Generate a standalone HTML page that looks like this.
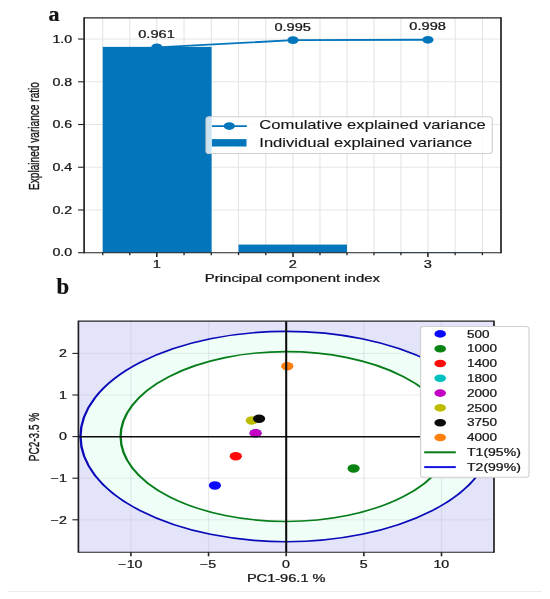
<!DOCTYPE html>
<html lang="en"><head><meta charset="utf-8"><title>PCA explained variance and score plot</title>
<style>html,body{margin:0;padding:0;background:#fff}svg{display:block}text{font-family:"Liberation Sans", Arial, Helvetica, sans-serif;fill:#161616;stroke:#161616;stroke-width:0.24px;stroke-linejoin:round}.lab{font-family:"Liberation Serif","Times New Roman",serif;font-weight:bold;fill:#111}</style></head><body>
<svg width="550" height="599" viewBox="0 0 550 599">
<defs><clipPath id="c2"><rect x="78.4" y="320.8" width="415.6" height="231.4"/></clipPath></defs>
<rect width="550" height="599" fill="#fff"/>
<g>
<g stroke="#e3e3e3" fill="none">
<line x1="102.75" x2="102.75" y1="17.85" y2="252.70" stroke-width="1.05"/>
<line x1="129.78" x2="129.78" y1="17.85" y2="252.70" stroke-width="1.05"/>
<line x1="156.80" x2="156.80" y1="17.85" y2="252.70" stroke-width="1.05"/>
<line x1="184.04" x2="184.04" y1="17.85" y2="252.70" stroke-width="1.05"/>
<line x1="211.28" x2="211.28" y1="17.85" y2="252.70" stroke-width="1.05"/>
<line x1="238.52" x2="238.52" y1="17.85" y2="252.70" stroke-width="1.05"/>
<line x1="265.76" x2="265.76" y1="17.85" y2="252.70" stroke-width="1.05"/>
<line x1="293.00" x2="293.00" y1="17.85" y2="252.70" stroke-width="1.05"/>
<line x1="319.98" x2="319.98" y1="17.85" y2="252.70" stroke-width="1.05"/>
<line x1="346.96" x2="346.96" y1="17.85" y2="252.70" stroke-width="1.05"/>
<line x1="373.94" x2="373.94" y1="17.85" y2="252.70" stroke-width="1.05"/>
<line x1="400.92" x2="400.92" y1="17.85" y2="252.70" stroke-width="1.05"/>
<line x1="427.90" x2="427.90" y1="17.85" y2="252.70" stroke-width="1.05"/>
<line x1="455.15" x2="455.15" y1="17.85" y2="252.70" stroke-width="1.05"/>
<line x1="482.40" x2="482.40" y1="17.85" y2="252.70" stroke-width="1.05"/>
<line x1="84.10" x2="501.00" y1="209.97" y2="209.97" stroke-width="0.9"/>
<line x1="84.10" x2="501.00" y1="167.24" y2="167.24" stroke-width="0.9"/>
<line x1="84.10" x2="501.00" y1="124.51" y2="124.51" stroke-width="0.9"/>
<line x1="84.10" x2="501.00" y1="81.78" y2="81.78" stroke-width="0.9"/>
<line x1="84.10" x2="501.00" y1="39.05" y2="39.05" stroke-width="0.9"/>
</g>
<rect x="102.75" y="46.85" width="108.83" height="205.85" fill="#0376bb"/>
<rect x="238.52" y="244.58" width="108.44" height="8.12" fill="#0376bb"/>
<rect x="373.94" y="252.06" width="108.46" height="0.64" fill="#0376bb"/>
<polyline points="156.80,47.38 293.00,40.12 427.90,39.80" fill="none" stroke="#0376bb" stroke-width="1.9"/>
<ellipse cx="156.80" cy="47.38" rx="5.6" ry="3.9" fill="#0376bb"/>
<ellipse cx="293.00" cy="40.12" rx="5.6" ry="3.9" fill="#0376bb"/>
<ellipse cx="427.90" cy="39.80" rx="5.6" ry="3.9" fill="#0376bb"/>
<text transform="translate(156.50,37.60) scale(1.46,1)" font-size="10" text-anchor="middle">0.961</text>
<text transform="translate(292.70,30.72) scale(1.46,1)" font-size="10" text-anchor="middle">0.995</text>
<text transform="translate(427.60,30.40) scale(1.46,1)" font-size="10" text-anchor="middle">0.998</text>
<g stroke="#222" fill="none">
<line x1="84.10" x2="84.10" y1="17.35" y2="253.20" stroke-width="1.7"/>
<line x1="501.00" x2="501.00" y1="17.35" y2="253.20" stroke-width="1.7"/>
<line x1="84.10" x2="501.00" y1="17.85" y2="17.85" stroke-width="1.15"/>
<line x1="84.10" x2="501.00" y1="252.70" y2="252.70" stroke-width="1.15"/>
<line x1="78.10" x2="84.10" y1="252.70" y2="252.70" stroke-width="1.1"/>
<line x1="78.10" x2="84.10" y1="209.97" y2="209.97" stroke-width="1.1"/>
<line x1="78.10" x2="84.10" y1="167.24" y2="167.24" stroke-width="1.1"/>
<line x1="78.10" x2="84.10" y1="124.51" y2="124.51" stroke-width="1.1"/>
<line x1="78.10" x2="84.10" y1="81.78" y2="81.78" stroke-width="1.1"/>
<line x1="78.10" x2="84.10" y1="39.05" y2="39.05" stroke-width="1.1"/>
<line x1="102.75" x2="102.75" y1="252.70" y2="255.20" stroke-width="1.3"/>
<line x1="129.78" x2="129.78" y1="252.70" y2="255.20" stroke-width="1.3"/>
<line x1="156.80" x2="156.80" y1="252.70" y2="257.00" stroke-width="1.6"/>
<line x1="184.04" x2="184.04" y1="252.70" y2="255.20" stroke-width="1.3"/>
<line x1="211.28" x2="211.28" y1="252.70" y2="255.20" stroke-width="1.3"/>
<line x1="238.52" x2="238.52" y1="252.70" y2="255.20" stroke-width="1.3"/>
<line x1="265.76" x2="265.76" y1="252.70" y2="255.20" stroke-width="1.3"/>
<line x1="293.00" x2="293.00" y1="252.70" y2="257.00" stroke-width="1.6"/>
<line x1="319.98" x2="319.98" y1="252.70" y2="255.20" stroke-width="1.3"/>
<line x1="346.96" x2="346.96" y1="252.70" y2="255.20" stroke-width="1.3"/>
<line x1="373.94" x2="373.94" y1="252.70" y2="255.20" stroke-width="1.3"/>
<line x1="400.92" x2="400.92" y1="252.70" y2="255.20" stroke-width="1.3"/>
<line x1="427.90" x2="427.90" y1="252.70" y2="257.00" stroke-width="1.6"/>
<line x1="455.15" x2="455.15" y1="252.70" y2="255.20" stroke-width="1.3"/>
<line x1="482.40" x2="482.40" y1="252.70" y2="255.20" stroke-width="1.3"/>
</g>
<text transform="translate(72.20,256.45) scale(1.42,1)" font-size="10" text-anchor="end">0.0</text>
<text transform="translate(72.20,213.72) scale(1.42,1)" font-size="10" text-anchor="end">0.2</text>
<text transform="translate(72.20,170.99) scale(1.42,1)" font-size="10" text-anchor="end">0.4</text>
<text transform="translate(72.20,128.26) scale(1.42,1)" font-size="10" text-anchor="end">0.6</text>
<text transform="translate(72.20,85.53) scale(1.42,1)" font-size="10" text-anchor="end">0.8</text>
<text transform="translate(72.20,42.80) scale(1.42,1)" font-size="10" text-anchor="end">1.0</text>
<text transform="translate(156.70,267.80) scale(1.46,1)" font-size="10" text-anchor="middle">1</text>
<text transform="translate(292.90,267.80) scale(1.46,1)" font-size="10" text-anchor="middle">2</text>
<text transform="translate(427.80,267.80) scale(1.46,1)" font-size="10" text-anchor="middle">3</text>
<text transform="translate(292.40,282.00) scale(1.495,1)" font-size="10" text-anchor="middle">Principal component index</text>
<text transform="translate(38.80,136.00) rotate(-90) scale(1,1.46)" font-size="10.13" text-anchor="middle">Explained variance ratio</text>
<rect x="206" y="116.8" width="286.3" height="36.7" rx="3.6" ry="2.6" fill="#fff" fill-opacity="0.8" stroke="#cfcfcf" stroke-width="1.1"/>
<line x1="211.9" x2="246.8" y1="126.1" y2="126.1" stroke="#0376bb" stroke-width="1.6"/>
<ellipse cx="229.3" cy="126.1" rx="5.6" ry="3.9" fill="#0376bb"/>
<rect x="211.9" y="139.1" width="34.6" height="7.4" fill="#0376bb"/>
<text transform="translate(259.30,129.30) scale(1.365,1)" font-size="12.2" text-anchor="start" style="stroke-width:0.12px">Comulative explained variance</text>
<text transform="translate(259.30,146.70) scale(1.36,1)" font-size="12.2" text-anchor="start" style="stroke-width:0.12px">Individual explained variance</text>
<text transform="translate(48.60,20.50) scale(1.02,1)" font-size="21.5" text-anchor="start" class="lab">a</text>
<text transform="translate(56.60,293.60) scale(0.95,1)" font-size="24" text-anchor="start" class="lab">b</text>
<rect x="78.40" y="321.15" width="415.60" height="231.05" fill="#e3e4fa"/>
<g clip-path="url(#c2)">
<g transform="translate(286.20,436.55) scale(1.46,1)">
<ellipse cx="0" cy="0" rx="140.89" ry="105.15" fill="#effff8" stroke="none"/>
<ellipse cx="0" cy="0" rx="113.42" ry="84.9" fill="#ffffff" stroke="none"/>
</g>
<g stroke="#b4b4c0" stroke-opacity="0.27" fill="none">
<line x1="130.90" x2="130.90" y1="321.15" y2="552.20" stroke-width="1.3"/>
<line x1="208.55" x2="208.55" y1="321.15" y2="552.20" stroke-width="1.3"/>
<line x1="363.85" x2="363.85" y1="321.15" y2="552.20" stroke-width="1.3"/>
<line x1="441.50" x2="441.50" y1="321.15" y2="552.20" stroke-width="1.3"/>
<line x1="78.40" x2="494.00" y1="519.80" y2="519.80" stroke-width="1"/>
<line x1="78.40" x2="494.00" y1="478.20" y2="478.20" stroke-width="1"/>
<line x1="78.40" x2="494.00" y1="395.00" y2="395.00" stroke-width="1"/>
<line x1="78.40" x2="494.00" y1="353.40" y2="353.40" stroke-width="1"/>
</g>
<g transform="translate(286.20,436.55) scale(1.46,1)" fill="none" stroke-width="1.6">
<ellipse cx="0" cy="0" rx="140.89" ry="105.15" stroke="#0a0ab8"/>
<ellipse cx="0" cy="0" rx="113.42" ry="84.9" stroke="#077d1a"/>
</g>
<ellipse cx="214.90" cy="485.50" rx="6.1" ry="4.2" fill="#0a0aff"/>
<ellipse cx="353.60" cy="468.50" rx="6.1" ry="4.2" fill="#088210"/>
<ellipse cx="235.80" cy="456.20" rx="6.1" ry="4.2" fill="#ff0a0a"/>
<ellipse cx="255.60" cy="433.30" rx="6.1" ry="4.2" fill="#00bfbf"/>
<ellipse cx="255.60" cy="433.30" rx="6.1" ry="4.2" fill="#c400c4"/>
<ellipse cx="251.80" cy="420.50" rx="6.1" ry="4.2" fill="#bdbd00"/>
<ellipse cx="259.10" cy="418.70" rx="6.1" ry="4.2" fill="#0a0a0a"/>
<ellipse cx="287.30" cy="366.30" rx="6.1" ry="4.2" fill="#ff7f0e"/>
<line x1="78.40" x2="494.00" y1="436.80" y2="436.80" stroke="#0c0c0c" stroke-width="1.45"/>
<line x1="286.20" x2="286.20" y1="321.15" y2="552.20" stroke="#0c0c0c" stroke-width="2.05"/>
</g>
<g stroke="#222" fill="none">
<line x1="78.40" x2="78.40" y1="320.65" y2="552.70" stroke-width="1.7"/>
<line x1="494.00" x2="494.00" y1="320.65" y2="552.70" stroke-width="1.7"/>
<line x1="78.40" x2="494.00" y1="321.15" y2="321.15" stroke-width="1.15"/>
<line x1="78.40" x2="494.00" y1="552.20" y2="552.20" stroke-width="1.15"/>
<line x1="72.40" x2="78.40" y1="519.80" y2="519.80" stroke-width="1.1"/>
<line x1="72.40" x2="78.40" y1="478.20" y2="478.20" stroke-width="1.1"/>
<line x1="72.40" x2="78.40" y1="436.60" y2="436.60" stroke-width="1.1"/>
<line x1="72.40" x2="78.40" y1="395.00" y2="395.00" stroke-width="1.1"/>
<line x1="72.40" x2="78.40" y1="353.40" y2="353.40" stroke-width="1.1"/>
<line x1="130.90" x2="130.90" y1="552.20" y2="556.30" stroke-width="1.6"/>
<line x1="208.55" x2="208.55" y1="552.20" y2="556.30" stroke-width="1.6"/>
<line x1="286.20" x2="286.20" y1="552.20" y2="556.30" stroke-width="1.6"/>
<line x1="363.85" x2="363.85" y1="552.20" y2="556.30" stroke-width="1.6"/>
<line x1="441.50" x2="441.50" y1="552.20" y2="556.30" stroke-width="1.6"/>
</g>
<text transform="translate(66.90,523.50) scale(1.42,1)" font-size="10" text-anchor="end">−2</text>
<text transform="translate(66.90,481.90) scale(1.42,1)" font-size="10" text-anchor="end">−1</text>
<text transform="translate(66.90,440.30) scale(1.42,1)" font-size="10" text-anchor="end">0</text>
<text transform="translate(66.90,398.70) scale(1.42,1)" font-size="10" text-anchor="end">1</text>
<text transform="translate(66.90,357.10) scale(1.42,1)" font-size="10" text-anchor="end">2</text>
<text transform="translate(130.40,568.00) scale(1.42,1)" font-size="10" text-anchor="middle">−10</text>
<text transform="translate(208.05,568.00) scale(1.42,1)" font-size="10" text-anchor="middle">−5</text>
<text transform="translate(286.00,568.00) scale(1.42,1)" font-size="10" text-anchor="middle">0</text>
<text transform="translate(363.65,568.00) scale(1.42,1)" font-size="10" text-anchor="middle">5</text>
<text transform="translate(441.30,568.00) scale(1.42,1)" font-size="10" text-anchor="middle">10</text>
<text transform="translate(286.20,582.20) scale(1.46,1)" font-size="10" text-anchor="middle">PC1-96.1 %</text>
<text transform="translate(38.90,437.00) rotate(-90) scale(1,1.46)" font-size="10" text-anchor="middle">PC2-3.5 %</text>
<rect x="420.6" y="326.5" width="108.4" height="150.8" rx="3.6" ry="2.6" fill="#fff" stroke="#cfcfcf" stroke-width="1.1"/>
<ellipse cx="440.2" cy="333.90" rx="5.8" ry="3.8" fill="#0a0aff"/>
<text transform="translate(467.00,337.60) scale(1.355,1)" font-size="10" text-anchor="start">500</text>
<ellipse cx="440.2" cy="348.70" rx="5.8" ry="3.8" fill="#088210"/>
<text transform="translate(467.00,352.40) scale(1.355,1)" font-size="10" text-anchor="start">1000</text>
<ellipse cx="440.2" cy="363.50" rx="5.8" ry="3.8" fill="#ff0a0a"/>
<text transform="translate(467.00,367.20) scale(1.355,1)" font-size="10" text-anchor="start">1400</text>
<ellipse cx="440.2" cy="378.30" rx="5.8" ry="3.8" fill="#00bfbf"/>
<text transform="translate(467.00,382.00) scale(1.355,1)" font-size="10" text-anchor="start">1800</text>
<ellipse cx="440.2" cy="393.10" rx="5.8" ry="3.8" fill="#c400c4"/>
<text transform="translate(467.00,396.80) scale(1.355,1)" font-size="10" text-anchor="start">2000</text>
<ellipse cx="440.2" cy="407.90" rx="5.8" ry="3.8" fill="#bdbd00"/>
<text transform="translate(467.00,411.60) scale(1.355,1)" font-size="10" text-anchor="start">2500</text>
<ellipse cx="440.2" cy="422.70" rx="5.8" ry="3.8" fill="#0a0a0a"/>
<text transform="translate(467.00,426.40) scale(1.355,1)" font-size="10" text-anchor="start">3750</text>
<ellipse cx="440.2" cy="437.50" rx="5.8" ry="3.8" fill="#ff7f0e"/>
<text transform="translate(467.00,441.20) scale(1.355,1)" font-size="10" text-anchor="start">4000</text>
<line x1="424.2" x2="455.8" y1="452.30" y2="452.30" stroke="#077d1a" stroke-width="2"/>
<text transform="translate(467.00,456.00) scale(1.405,1)" font-size="10" text-anchor="start">T1(95%)</text>
<line x1="424.2" x2="455.8" y1="467.10" y2="467.10" stroke="#1414dc" stroke-width="2"/>
<text transform="translate(467.00,470.80) scale(1.405,1)" font-size="10" text-anchor="start">T2(99%)</text>
<line x1="7.5" x2="541.5" y1="591.5" y2="591.5" stroke="#ececec" stroke-width="1.2"/>
</g>
</svg></body></html>
